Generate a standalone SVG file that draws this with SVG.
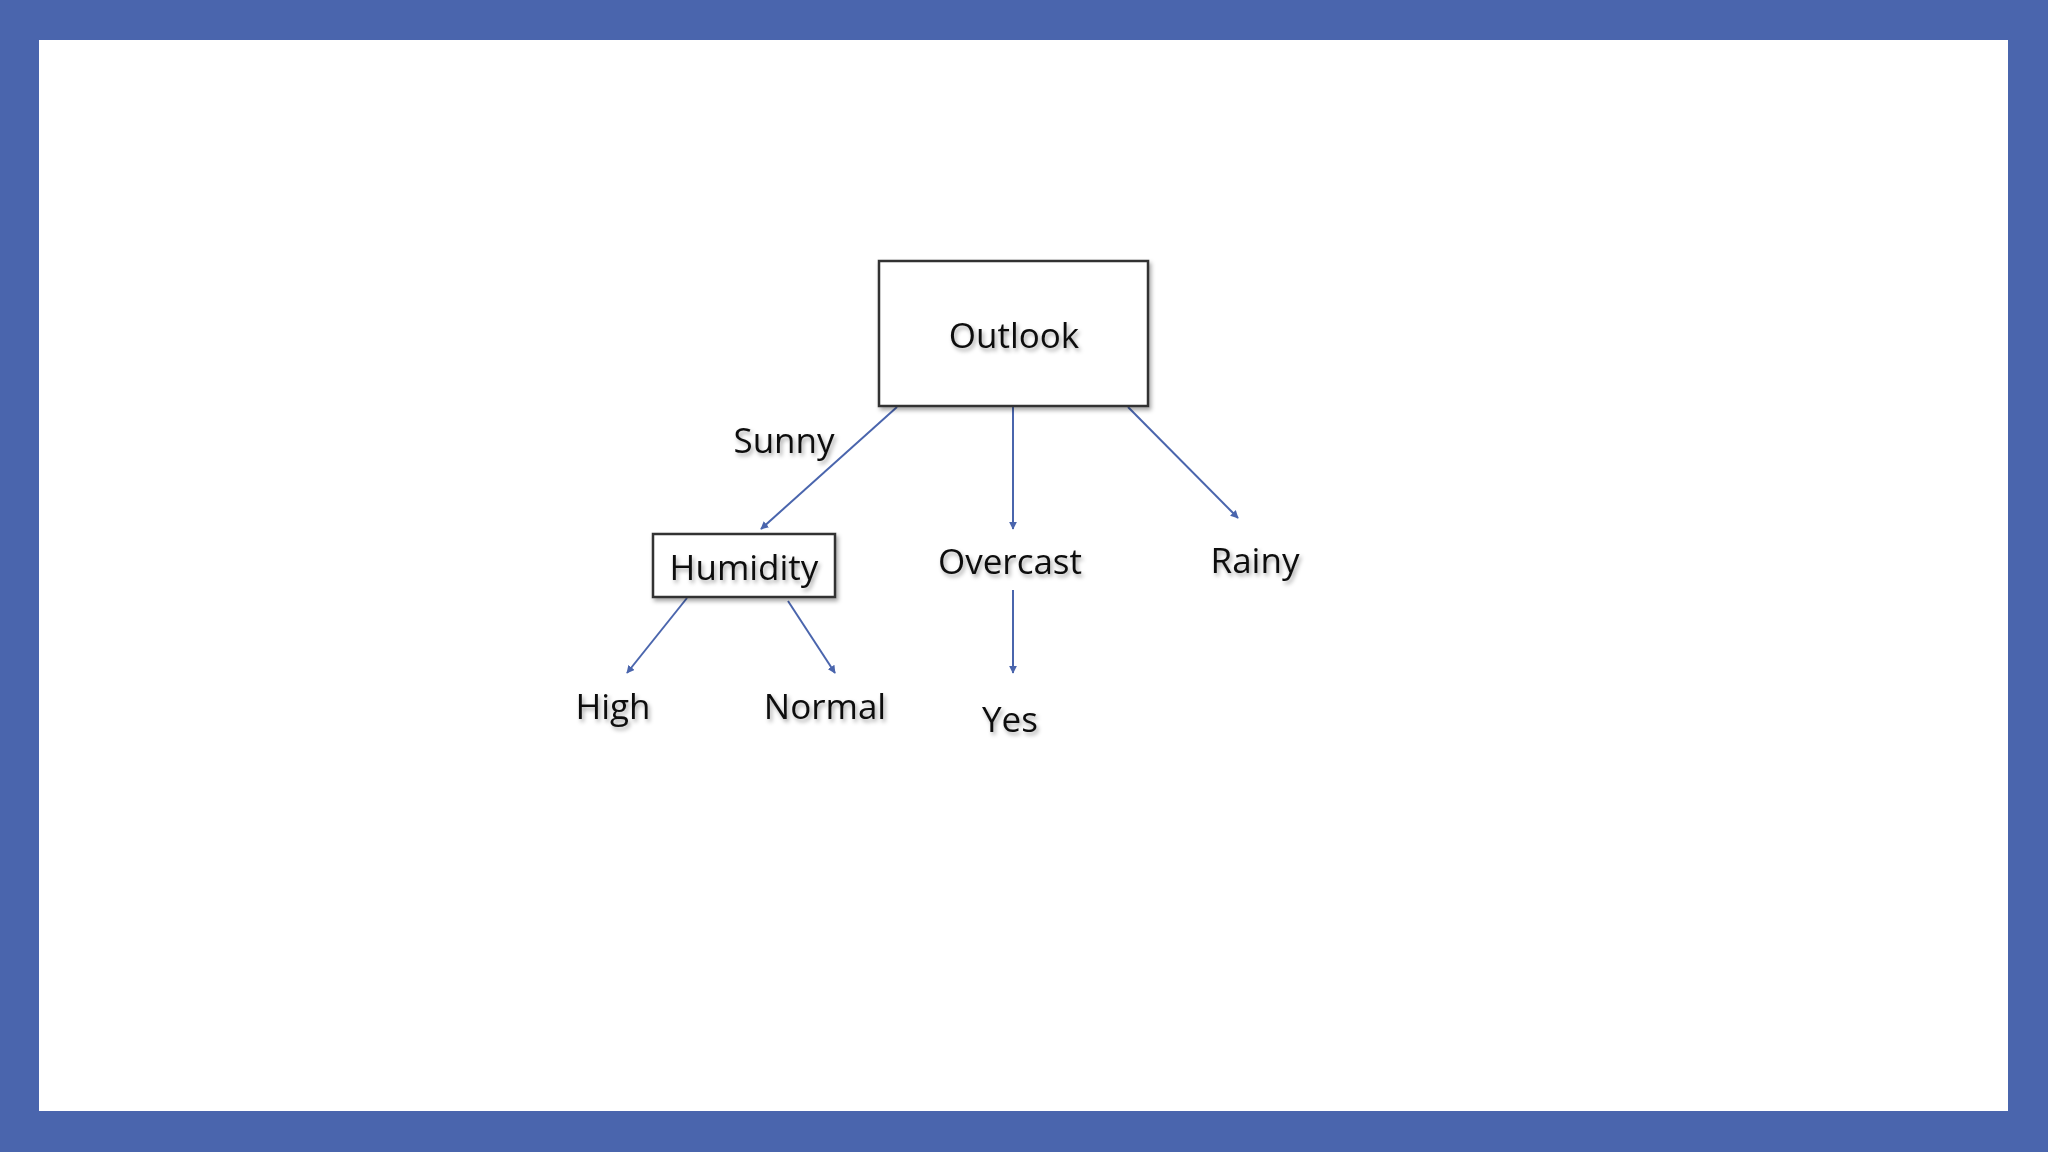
<svg xmlns="http://www.w3.org/2000/svg" width="2048" height="1152" viewBox="0 0 2048 1152">
<defs>
<marker id="ah" viewBox="0 0 10 10" refX="9" refY="5" markerWidth="4" markerHeight="4" orient="auto"><path d="M0,0 L10,5 L0,10 z" fill="#4a65ad"/></marker>
<filter id="sh" x="-20%" y="-20%" width="140%" height="160%"><feDropShadow dx="2" dy="3" stdDev="3" flood-color="#000" flood-opacity="0.35"/></filter>
<style>
.t{font-family:"Open Sans","Liberation Sans",sans-serif;font-size:35px;fill:#111;text-anchor:middle;dominant-baseline:central;filter:url(#sh)}
.b{fill:#fff;stroke:#333;stroke-width:2.5;filter:url(#sh)}
.c{stroke:#4a65ad;stroke-width:2;fill:none;marker-end:url(#ah)}
</style>
</defs>
<rect width="2048" height="1152" fill="#4a65ad"/>
<rect x="39" y="40" width="1969" height="1071" fill="#fff"/>
<g id="connectors">
<line class="c" x1="897" y1="407" x2="761" y2="529"/>
<line class="c" x1="1013" y1="407" x2="1013" y2="529"/>
<line class="c" x1="1128" y1="407" x2="1238" y2="518"/>
<line class="c" x1="1013" y1="590" x2="1013" y2="673"/>
<line class="c" x1="687" y1="598" x2="627" y2="673"/>
<line class="c" x1="788" y1="601" x2="835" y2="673"/>
</g>
<g id="outlook"><rect class="b" x="879" y="261" width="269" height="145"/><text class="t" x="1014" y="334">Outlook</text></g>
<g id="humidity"><rect class="b" x="653" y="534" width="182" height="63"/><text class="t" x="744" y="566">Humidity</text></g>
<g id="sunny"><text class="t" x="784" y="439">Sunny</text></g>
<g id="overcast"><text class="t" x="1010" y="560">Overcast</text></g>
<g id="rainy"><text class="t" x="1255" y="559">Rainy</text></g>
<g id="high"><text class="t" x="613" y="705">High</text></g>
<g id="normal"><text class="t" x="825" y="705">Normal</text></g>
<g id="yes"><text class="t" x="1010" y="718">Yes</text></g>
</svg>
